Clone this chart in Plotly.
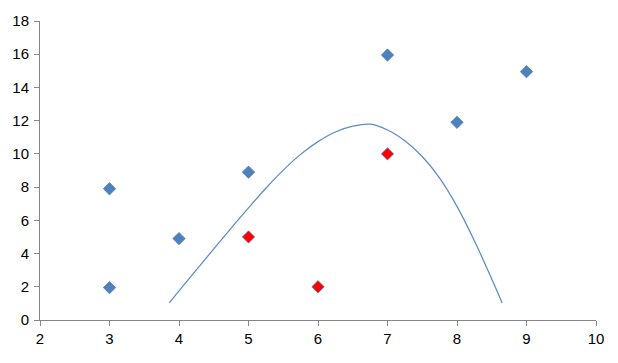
import plotly.graph_objects as go

# Data
blue_x = [3, 3, 4, 5, 7, 8, 9]
blue_y = [7.9, 1.95, 4.9, 8.9, 15.95, 11.9, 14.95]

red_x = [5, 6, 7]
red_y = [5, 2, 10]

curve_x = [3.86, 4.0, 4.25, 4.5, 4.75, 5.0, 5.25, 5.5, 5.75, 6.0, 6.25, 6.5, 6.75,
           7.0, 7.25, 7.5, 7.75, 8.0, 8.25, 8.5, 8.65]
curve_y = [1.03, 1.75, 3.02, 4.28, 5.53, 6.75, 7.93, 9.02, 9.97, 10.74, 11.32, 11.67, 11.79,
           11.44, 10.79, 9.84, 8.54, 6.84, 4.77, 2.47, 1.03]

x_ticks = [2, 3, 4, 5, 6, 7, 8, 9, 10]
y_ticks = [0, 2, 4, 6, 8, 10, 12, 14, 16, 18]

fig = go.Figure()
fig.add_trace(go.Scatter(x=curve_x, y=curve_y, mode="lines",
                         line=dict(color="#5B8BC9", width=1.25, shape="spline", smoothing=1.0),
                         hoverinfo="skip"))
fig.add_trace(go.Scatter(x=blue_x, y=blue_y, mode="markers",
                         marker=dict(symbol="diamond", size=9.5, color="#4F81BD",
                                     line=dict(color="#4A7EBB", width=0.75))))
fig.add_trace(go.Scatter(x=red_x, y=red_y, mode="markers",
                         marker=dict(symbol="diamond", size=9.5, color="#FF0000",
                                     line=dict(color="#4F81BD", width=0.75))))

axis_common = dict(showgrid=False, zeroline=False, showline=True, linecolor="#868686",
                   linewidth=1, ticks="outside", ticklen=5, tickcolor="#868686", tickwidth=1,
                   tickfont=dict(family="Liberation Sans", size=15, color="#000000"))

fig.update_xaxes(range=[2, 10], tickvals=x_ticks, ticktext=[str(v) for v in x_ticks], **axis_common)
fig.update_yaxes(range=[0, 18], tickvals=y_ticks, ticktext=[str(v) for v in y_ticks],
                 ticklabelstandoff=2, **axis_common)

fig.update_layout(width=618, height=363, showlegend=False,
                  margin=dict(l=40, r=22, t=15, b=43),
                  plot_bgcolor="white", paper_bgcolor="white")

fig.write_html("out.html")
